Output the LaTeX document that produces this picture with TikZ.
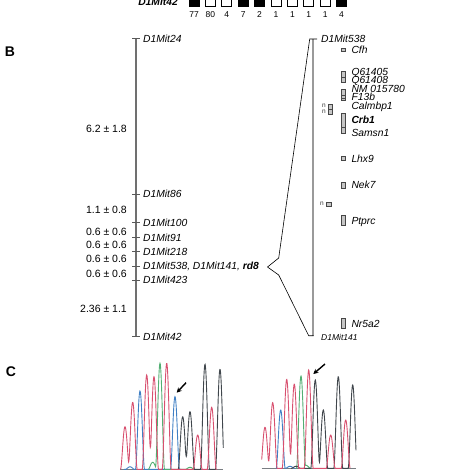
\documentclass[tikz,border=0pt]{standalone}
\usepackage{fontspec}
\setmainfont{Liberation Sans}
\usetikzlibrary{arrows.meta}
\definecolor{trRed}{HTML}{D8506F}
\definecolor{trBlue}{HTML}{3F7FC4}
\definecolor{trGreen}{HTML}{52AE72}
\definecolor{trDark}{HTML}{40464C}
\definecolor{chrL}{HTML}{707070}
\definecolor{chrR}{HTML}{9A9A9A}
\pgfmathdeclarefunction{pk}{3}{%
  \begingroup
  \pgfmathparse{max(0,1-(#3-#2)*(#3-#2)/20.25)}%
  \pgfmathparse{#1*\pgfmathresult*\pgfmathresult}%
  \pgfmathsmuggle\pgfmathresult
  \endgroup}
\begin{document}
\begin{tikzpicture}[x=1pt,y=-1pt,
  mk/.style={font=\fontsize{10.3}{12}\selectfont\itshape, anchor=west, inner sep=0pt, text height=7.5pt, text depth=0pt},
  dist/.style={font=\fontsize{10.5}{12}\selectfont, anchor=east, inner sep=0pt, text height=7.5pt, text depth=0pt},
  hbox/.style={draw=black, line width=0.7pt, minimum width=10pt, minimum height=12pt, inner sep=0pt},
  num/.style={font=\fontsize{8.5}{10}\selectfont, inner sep=0pt},
  panel/.style={font=\fontsize{14}{14}\selectfont\bfseries, inner sep=0pt},
  tickln/.style={draw=black!65, line width=0.8pt},
  gbox/.style={fill=gray!45, draw=gray!55!black, line width=0.4pt},
  tiny/.style={font=\fontsize{6.5}{7}\selectfont, inner sep=0pt, text=black!80},
  brk/.style={draw=black, line width=0.6pt},
  trace/.style={line width=0.9pt},
  arr/.style={-{Stealth[length=5pt,width=5pt]}, line width=1.4pt, draw=black}
]
\useasboundingbox (0,0) rectangle (474,474);
\clip (0,0) rectangle (474,474);

% ---- top row (panel A remnant)
\node[anchor=base east, font=\fontsize{10.3}{12}\selectfont\bfseries\itshape, inner sep=0pt] (topl) at (178,5.3) {D1Mit42};
\foreach \xx/\cc/\nn [count=\k] in {194/black/77, 210.4/white/80, 226.8/white/4, 243.2/black/7, 259.6/black/2, 276/white/1, 292.4/white/1, 308.8/white/1, 325.2/white/1, 341.6/black/4} {
  \node[hbox, fill=\cc] (h\k) at (\xx,0) {};
  \node[num] (n\k) at (\xx,14.3) {\nn};
}

% ---- panel B
\node[panel] (B) at (10,52) {B};

% left genetic map
\coordinate (Ltop) at (136,38.3);
\coordinate (Lbot) at (136,336.7);
\draw[draw=chrL, line width=1.3pt] (Ltop) -- (Lbot);
\foreach \yy/\nm/\tt in {38.3/m24/D1Mit24, 194/m86/D1Mit86, 222.7/m100/D1Mit100, 237.3/m91/D1Mit91, 251.7/m218/D1Mit218, 280/m423/D1Mit423, 336.7/m42/D1Mit42} {
  \draw[tickln] (132,\yy) -- (140,\yy);
  \node[mk] (\nm) at (143,\yy) {\tt};
}
\draw[tickln] (132,266) -- (140,266);
\node[mk] (m538) at (143,266) {D1Mit538, D1Mit141, \textbf{rd8}};

\node[dist] (d1) at (127,129) {6.2 ± 1.8};
\node[dist] (d2) at (127,210) {1.1 ± 0.8};
\node[dist] (d3) at (127,231.7) {0.6 ± 0.6};
\node[dist] (d4) at (127,245) {0.6 ± 0.6};
\node[dist] (d5) at (127,259) {0.6 ± 0.6};
\node[dist] (d6) at (127,274) {0.6 ± 0.6};
\node[dist] (d7) at (127,309) {2.36 ± 1.1};

% right physical map
\coordinate (Rtop) at (313,39);
\coordinate (Rbot) at (313,335.7);
\draw[draw=chrR, line width=1.2pt] (Rtop) -- (Rbot);
\coordinate (tt) at (317,39);
\coordinate (b1) at (309.7,39);
\coordinate (b2) at (278.7,258);
\coordinate (apex) at (267.5,267);
\coordinate (b3) at (278.7,275);
\coordinate (b4) at (308.7,335.7);
\coordinate (b5) at (313.5,335.7);
\draw[brk] (tt) -- (b1) -- (b2) -- (apex) -- (b3) -- (b4) -- (b5);
\node[mk] (r538) at (321,38.3) {D1Mit538};
\node[mk, font=\fontsize{8.5}{10}\selectfont\itshape, text height=6.2pt] (r141) at (321,337.7) {D1Mit141};

% gene boxes
\draw[gbox] (341.3,47.7) rectangle (345,51.3);
\draw[gbox] (341,70.7) rectangle (345,76.7);
\draw[gbox] (341,76.7) rectangle (345,82);
\draw[gbox] (341,89) rectangle (345,95);
\draw[gbox] (341,95) rectangle (345,100.3);
\draw[black!70, line width=1pt] (341,98) -- (345,98);
\draw[gbox] (341,112.7) rectangle (345,127.3);
\draw[gbox] (341,127.3) rectangle (345,133.3);
\draw[black!70, line width=1pt] (341,127.6) -- (345,127.6);
\draw[gbox] (341.3,156.5) rectangle (345,160);
\draw[gbox] (341.3,181.7) rectangle (345,188.3);
\draw[gbox] (341,215) rectangle (345,225);
\draw[gbox] (341,318) rectangle (345,327.7);
% small n marks
\node[tiny] (na) at (324,105.5) {n};
\node[tiny] (nb) at (324,111.3) {n};
\draw[gbox] (328,104) rectangle (332.5,109);
\draw[gbox] (328,109) rectangle (332.5,114);
\node[tiny] (nc) at (322,204) {n};
\draw[gbox] (326.5,202) rectangle (331,206.5);

% gene labels
\node[mk] (gCfh) at (351.3,50) {Cfh};
\node[mk] (gQ1) at (351.3,71.7) {Q61405};
\node[mk] (gQ2) at (351.3,80) {Q61408};
\node[mk] (gNM) at (351.3,89) {NM 015780};
\node[mk] (gF13) at (351.3,96.7) {F13b};
\node[mk] (gCal) at (351.3,105.7) {Calmbp1};
\node[mk, font=\fontsize{10.3}{12}\selectfont\bfseries\itshape] (gCrb) at (351.3,120) {Crb1};
\node[mk] (gSam) at (351.3,132.3) {Samsn1};
\node[mk] (gLhx) at (351.3,158.3) {Lhx9};
\node[mk] (gNek) at (351.3,185) {Nek7};
\node[mk] (gPtp) at (351.3,220.7) {Ptprc};
\node[mk] (gNr5) at (351.3,323.3) {Nr5a2};

% ---- panel C
\node[panel] (C) at (11,372) {C};

% left chromatogram
\draw[trDark!70, line width=0.8pt] (120,469.3) -- (223.3,469.3);
\draw[trace, trBlue] plot[domain=124:181, samples=180] (\x,{469.3-pk(2.5,130,\x)-pk(78.3,140,\x)-pk(72.6,175,\x)});
\draw[trace, trGreen] plot[domain=148:195, samples=150] (\x,{469.3-pk(7,152.7,\x)-pk(106,160,\x)-pk(2,190,\x)});
\draw[trace, trDark] plot[domain=178:223.3, samples=160] (\x,{469.3-pk(52.6,182.7,\x)-pk(57.6,190,\x)-pk(105,205,\x)-pk(100,220,\x)});
\draw[trace, trRed] plot[domain=120.5:216.5, samples=320] (\x,{469.3-pk(42.6,125,\x)-pk(67,132.7,\x)-pk(94.3,146.7,\x)-pk(92.6,154,\x)-pk(106,166.7,\x)-pk(34.3,197.7,\x)-pk(62,211.7,\x)});
\coordinate (aL1) at (186,382.7);
\coordinate (aL2) at (176.7,392.7);
\draw[arr] (aL1) -- (aL2);

% right chromatogram
\draw[trDark!70, line width=0.8pt] (261.7,468.3) -- (356,468.3);
\draw[trace, trBlue] plot[domain=276:295, samples=80] (\x,{468.3-pk(58.3,280.7,\x)-pk(2,290,\x)});
\draw[trace, trGreen] plot[domain=296:311, samples=70] (\x,{468.3-pk(92.3,301,\x)-pk(3,306,\x)});
\draw[trace, trDark] plot[domain=291:356, samples=220] (\x,{468.3-pk(2,296,\x)-pk(88.3,315.3,\x)-pk(58.3,323.3,\x)-pk(91.6,338.3,\x)-pk(83.3,352.7,\x)});
\draw[trace, trRed] plot[domain=261.7:350, samples=300] (\x,{468.3-pk(41,265,\x)-pk(65.6,272.7,\x)-pk(89,286.7,\x)-pk(84.3,294.3,\x)-pk(98.3,308.7,\x)-pk(33.3,330.7,\x)-pk(48.3,345.7,\x)});
\coordinate (aR1) at (325,364);
\coordinate (aR2) at (313.3,374);
\draw[arr] (aR1) -- (aR2);
\end{tikzpicture}
\end{document}
